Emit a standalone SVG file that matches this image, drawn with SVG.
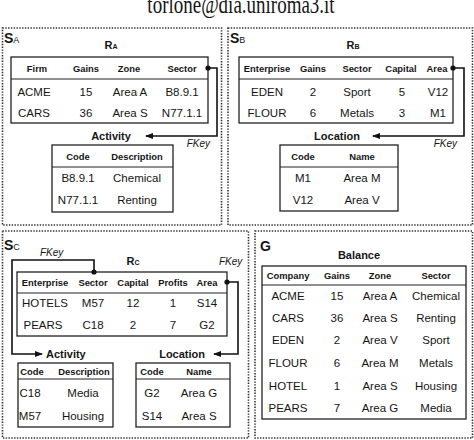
<svg xmlns="http://www.w3.org/2000/svg" width="474" height="440" viewBox="0 0 474 440">
<style>
text{font-family:"Liberation Sans",Arial,sans-serif;fill:#151515}
.top{font-family:"Liberation Serif","Times New Roman",serif;font-size:19px}
.panel{fill:none;stroke:#333;stroke-width:1.6;stroke-dasharray:1.4 1.4}
.lbl{font-size:14px;font-weight:bold}
.sub{font-size:9px;font-weight:normal}
.ttl{font-size:11px;font-weight:bold}
.tsub{font-size:7px;font-weight:bold}
.tbl{fill:#fff;stroke:#222;stroke-width:1.3}
.sep{stroke:#222;stroke-width:1}
.h{font-size:9.4px;font-weight:bold;text-anchor:middle}
.d{font-size:11.5px;text-anchor:middle}
.fk{font-size:10px;font-style:italic}
.conn{fill:none;stroke:#111;stroke-width:1.6}
.dot{fill:#111}
</style>
<defs>
<marker id="arr" viewBox="0 0 8 6" refX="7" refY="3" markerWidth="8" markerHeight="6" markerUnits="userSpaceOnUse" orient="auto">
<path d="M0,0 L8,3 L0,6 Z" fill="#111"/>
</marker>
</defs>
<rect width="474" height="440" fill="#fff"/>
<text class="top" x="241" y="10" text-anchor="middle" transform="translate(0,0) scale(1,1.3)">torlone@dia.uniroma3.it</text>

<g id="panel-SA">
<rect class="panel" x="2.5" y="28" width="219" height="197"/>
<text class="lbl" x="4" y="43">S<tspan class="sub">A</tspan></text>
</g>
<g id="panel-SB">
<rect class="panel" x="228" y="28" width="244.5" height="197"/>
<text class="lbl" x="230" y="43">S<tspan class="sub">B</tspan></text>
</g>
<g id="panel-SC">
<rect class="panel" x="2.5" y="231" width="246" height="207"/>
<text class="lbl" x="4" y="250">S<tspan class="sub">C</tspan></text>
</g>
<g id="panel-G">
<rect class="panel" x="255" y="231" width="217.5" height="207"/>
<text class="lbl" x="260" y="251">G</text>
</g>

<g id="RA">
<text class="ttl" x="111" y="49" text-anchor="middle">R<tspan class="tsub">A</tspan></text>
<rect class="tbl" x="11" y="57" width="197" height="66"/>
<line class="sep" x1="11" y1="79" x2="208" y2="79"/>
<text class="h" x="37" y="72">Firm</text><text class="h" x="86" y="72">Gains</text><text class="h" x="129" y="72">Zone</text><text class="h" x="182" y="72">Sector</text>
<text class="d" x="34" y="96">ACME</text><text class="d" x="86" y="96">15</text><text class="d" x="130" y="96">Area A</text><text class="d" x="182" y="96">B8.9.1</text>
<text class="d" x="34" y="117">CARS</text><text class="d" x="86" y="117">36</text><text class="d" x="130" y="117">Area S</text><text class="d" x="182" y="117">N77.1.1</text>
</g>
<g id="ActivityA">
<text class="ttl" x="111" y="140" text-anchor="middle">Activity</text>
<rect class="tbl" x="52" y="145" width="121" height="67"/>
<line class="sep" x1="52" y1="167" x2="173" y2="167"/>
<text class="h" x="78" y="160">Code</text><text class="h" x="137" y="160">Description</text>
<text class="d" x="78" y="182">B8.9.1</text><text class="d" x="137" y="182">Chemical</text>
<text class="d" x="78" y="204">N77.1.1</text><text class="d" x="137" y="204">Renting</text>
</g>

<g id="RB">
<text class="ttl" x="353" y="49" text-anchor="middle">R<tspan class="tsub">B</tspan></text>
<rect class="tbl" x="239" y="57" width="214" height="66"/>
<line class="sep" x1="239" y1="79" x2="453" y2="79"/>
<text class="h" x="267" y="72">Enterprise</text><text class="h" x="313" y="72">Gains</text><text class="h" x="357" y="72">Sector</text><text class="h" x="401" y="72">Capital</text><text class="h" x="437" y="72">Area</text>
<text class="d" x="267" y="96">EDEN</text><text class="d" x="313" y="96">2</text><text class="d" x="357" y="96">Sport</text><text class="d" x="402" y="96">5</text><text class="d" x="438" y="96">V12</text>
<text class="d" x="267" y="117">FLOUR</text><text class="d" x="313" y="117">6</text><text class="d" x="357" y="117">Metals</text><text class="d" x="402" y="117">3</text><text class="d" x="438" y="117">M1</text>
</g>
<g id="LocationB">
<text class="ttl" x="337" y="140" text-anchor="middle">Location</text>
<rect class="tbl" x="280" y="145" width="118" height="66"/>
<line class="sep" x1="280" y1="167" x2="398" y2="167"/>
<text class="h" x="303" y="160">Code</text><text class="h" x="362" y="160">Name</text>
<text class="d" x="303" y="182">M1</text><text class="d" x="362" y="182">Area M</text>
<text class="d" x="303" y="204">V12</text><text class="d" x="362" y="204">Area V</text>
</g>

<g id="RC">
<text class="ttl" x="133" y="265" text-anchor="middle">R<tspan class="tsub">C</tspan></text>
<rect class="tbl" x="17" y="272" width="210" height="64"/>
<line class="sep" x1="17" y1="293" x2="227" y2="293"/>
<text class="h" x="45" y="286">Enterprise</text><text class="h" x="93" y="286">Sector</text><text class="h" x="133" y="286">Capital</text><text class="h" x="173" y="286">Profits</text><text class="h" x="207" y="286">Area</text>
<text class="d" x="45" y="307">HOTELS</text><text class="d" x="93" y="307">M57</text><text class="d" x="133" y="307">12</text><text class="d" x="173" y="307">1</text><text class="d" x="207" y="307">S14</text>
<text class="d" x="43" y="329">PEARS</text><text class="d" x="93" y="329">C18</text><text class="d" x="133" y="329">2</text><text class="d" x="173" y="329">7</text><text class="d" x="207" y="329">G2</text>
</g>
<g id="ActivityC">
<text class="ttl" x="46" y="358">Activity</text>
<rect class="tbl" x="18" y="363" width="95" height="64"/>
<line class="sep" x1="18" y1="379" x2="113" y2="379"/>
<text class="h" x="32" y="375">Code</text><text class="h" x="84" y="375">Description</text>
<text class="d" x="30" y="397">C18</text><text class="d" x="83" y="397">Media</text>
<text class="d" x="30" y="420">M57</text><text class="d" x="83" y="420">Housing</text>
</g>
<g id="LocationC">
<text class="ttl" x="205" y="358" text-anchor="end">Location</text>
<rect class="tbl" x="136" y="363" width="94" height="64"/>
<line class="sep" x1="136" y1="379" x2="230" y2="379"/>
<text class="h" x="152" y="375">Code</text><text class="h" x="199" y="375">Name</text>
<text class="d" x="152" y="397">G2</text><text class="d" x="199" y="397">Area G</text>
<text class="d" x="152" y="420">S14</text><text class="d" x="199" y="420">Area S</text>
</g>

<g id="Balance">
<text class="ttl" x="359" y="259" text-anchor="middle">Balance</text>
<rect class="tbl" x="262" y="266" width="204" height="153"/>
<line class="sep" x1="262" y1="285" x2="466" y2="285"/>
<text class="h" x="288" y="279">Company</text><text class="h" x="337" y="279">Gains</text><text class="h" x="380" y="279">Zone</text><text class="h" x="436" y="279">Sector</text>
<text class="d" x="288" y="300">ACME</text><text class="d" x="337" y="300">15</text><text class="d" x="380" y="300">Area A</text><text class="d" x="436" y="300">Chemical</text>
<text class="d" x="288" y="322">CARS</text><text class="d" x="337" y="322">36</text><text class="d" x="380" y="322">Area S</text><text class="d" x="436" y="322">Renting</text>
<text class="d" x="288" y="344">EDEN</text><text class="d" x="337" y="344">2</text><text class="d" x="380" y="344">Area V</text><text class="d" x="436" y="344">Sport</text>
<text class="d" x="288" y="367">FLOUR</text><text class="d" x="337" y="367">6</text><text class="d" x="380" y="367">Area M</text><text class="d" x="436" y="367">Metals</text>
<text class="d" x="288" y="390">HOTEL</text><text class="d" x="337" y="390">1</text><text class="d" x="380" y="390">Area S</text><text class="d" x="436" y="390">Housing</text>
<text class="d" x="288" y="412">PEARS</text><text class="d" x="337" y="412">7</text><text class="d" x="380" y="412">Area G</text><text class="d" x="436" y="412">Media</text>
</g>

<g id="connectors">
<path class="conn" d="M208,68 H217 V136 H146" marker-end="url(#arr)"/>
<circle class="dot" cx="208" cy="68" r="2.6"/>
<text class="fk" x="210" y="147" text-anchor="end">FKey</text>
<path class="conn" d="M453,68 H464 V136 H373" marker-end="url(#arr)"/>
<circle class="dot" cx="453" cy="68" r="2.6"/>
<text class="fk" x="457" y="147" text-anchor="end">FKey</text>
<path class="conn" d="M94,272 V260 H12 V354 H42" marker-end="url(#arr)"/>
<circle class="dot" cx="94" cy="272" r="2.6"/>
<text class="fk" x="40" y="256">FKey</text>
<path class="conn" d="M227,282 H238 V354 H214" marker-end="url(#arr)"/>
<circle class="dot" cx="227" cy="282" r="2.6"/>
<text class="fk" x="219" y="265">FKey</text>
</g>
</svg>
